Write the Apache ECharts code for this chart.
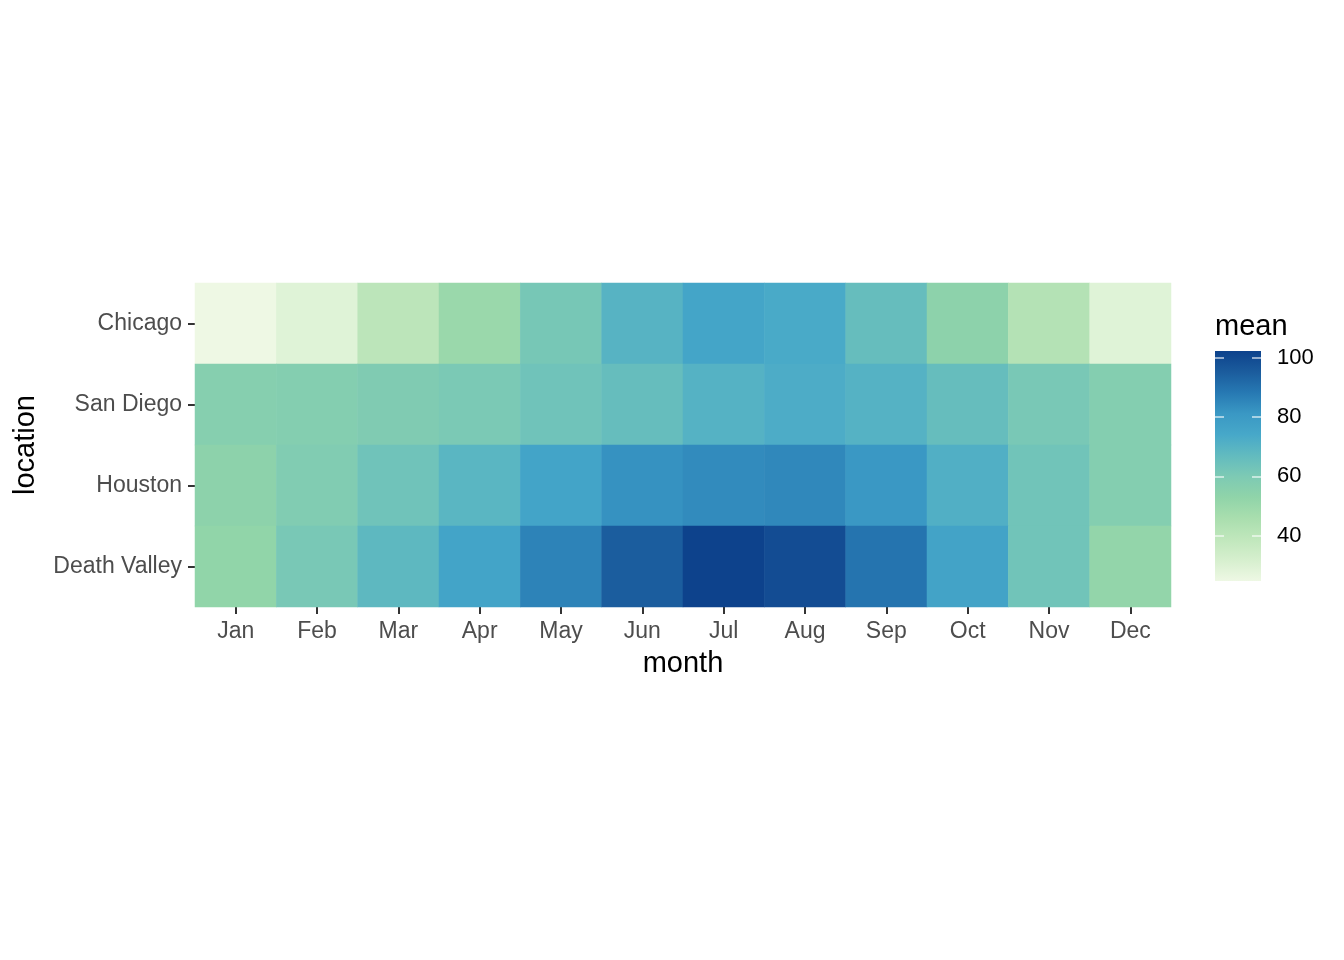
<!DOCTYPE html>
<html>
<head>
<meta charset="utf-8">
<script src="https://cdn.jsdelivr.net/npm/echarts@6/dist/echarts.min.js"></script>
<style>html,body{margin:0;padding:0;background:#fff;}#chart{width:1344px;height:960px;}</style>
</head>
<body>
<div id="chart"></div>
<script>
const months = ['Jan','Feb','Mar','Apr','May','Jun','Jul','Aug','Sep','Oct','Nov','Dec'];
const locations = ['Chicago','San Diego','Houston','Death Valley'];
const chicago     = [24.7, 29.0, 40.0, 50.0, 61.5, 70.0, 75.5, 73.5, 66.0, 54.0, 42.5, 29.0];
const sanDiego    = [56.5, 57.5, 59.0, 60.5, 63.5, 66.0, 70.5, 72.5, 70.5, 66.0, 61.0, 57.5];
const houston     = [54.0, 58.5, 63.5, 69.0, 76.0, 82.5, 84.0, 84.8, 81.0, 71.5, 63.0, 57.5];
const deathValley = [52.5, 61.0, 68.0, 76.0, 86.0, 95.0, 102.3, 99.5, 89.5, 76.5, 63.0, 52.0];
const legendTicks = [40, 60, 80, 100];
const scaleMin = 24.7, scaleMax = 102.3;
const palette = ['#eef8e4','#d6efce','#c0e7bc','#a9deae','#90d4a9','#7dcab4',
                 '#62bbbf','#47a8c9','#3a98c4','#2779b3','#1b5c9d','#0d428c'];

const rows = [chicago, sanDiego, houston, deathValley];
const heatData = [];
rows.forEach((vals, r) => vals.forEach((v, c) => heatData.push([c, r, v])));

const font = 'Liberation Sans, Arial, Helvetica, sans-serif';
const chart = echarts.init(document.getElementById('chart'));
chart.setOption({
  backgroundColor: '#ffffff',
  animation: false,
  title: {
    text: 'mean', left: 1215, top: 312, padding: 0,
    textStyle: {fontFamily: font, fontSize: 29, fontWeight: 'normal', color: '#000'}
  },
  grid: [
    {left: 195, top: 283, width: 976, height: 324},
    {left: 1215, top: 351, width: 46, height: 230}
  ],
  xAxis: [
    {
      type: 'category', data: months, gridIndex: 0,
      name: 'month', nameLocation: 'middle', nameGap: 42,
      nameTextStyle: {fontFamily: font, fontSize: 29, color: '#000'},
      axisLine: {show: false},
      axisTick: {show: true, alignWithLabel: true, length: 7, lineStyle: {color: '#333333', width: 2}},
      axisLabel: {fontFamily: font, fontSize: 23, color: '#4d4d4d', margin: 13},
      splitLine: {show: false}
    },
    {type: 'category', data: ['bar'], gridIndex: 1, show: false}
  ],
  yAxis: [
    {
      type: 'category', data: locations, inverse: true, gridIndex: 0,
      name: 'location', nameLocation: 'middle', nameGap: 155, nameRotate: 90,
      nameTextStyle: {fontFamily: font, fontSize: 29, color: '#000'},
      axisLine: {show: false},
      axisTick: {show: true, alignWithLabel: true, length: 7, lineStyle: {color: '#333333', width: 2}},
      axisLabel: {fontFamily: font, fontSize: 23, color: '#4d4d4d', margin: 13, padding: [4, 0, 0, 0]},
      splitLine: {show: false}
    },
    {
      type: 'value', gridIndex: 1, min: scaleMin, max: scaleMax, position: 'right', z: 10,
      axisLine: {show: false},
      axisTick: {show: true, inside: true, length: 9, customValues: legendTicks, lineStyle: {color: 'rgba(255,255,255,0.75)', width: 1.5}},
      axisLabel: {show: true, customValues: legendTicks, fontFamily: font, fontSize: 22, color: '#000', margin: 16},
      splitLine: {show: false}
    },
    {
      type: 'value', gridIndex: 1, min: scaleMin, max: scaleMax, position: 'left', z: 10,
      axisLine: {show: false},
      axisTick: {show: true, inside: true, length: 9, customValues: legendTicks, lineStyle: {color: 'rgba(255,255,255,0.75)', width: 1.5}},
      axisLabel: {show: false},
      splitLine: {show: false}
    }
  ],
  visualMap: {
    show: false, type: 'continuous', min: scaleMin, max: scaleMax, seriesIndex: 0,
    inRange: {color: palette}
  },
  series: [
    {
      type: 'heatmap', xAxisIndex: 0, yAxisIndex: 0, data: heatData,
      itemStyle: {borderWidth: 0}, emphasis: {disabled: true}
    },
    {
      type: 'bar', xAxisIndex: 1, yAxisIndex: 1, stack: 'lg', barWidth: '100%',
      data: [scaleMin], itemStyle: {color: 'rgba(0,0,0,0)'}, silent: true, z: 1
    },
    {
      type: 'bar', xAxisIndex: 1, yAxisIndex: 1, stack: 'lg', barWidth: '100%',
      data: [scaleMax - scaleMin], silent: true, z: 1,
      itemStyle: {
        color: new echarts.graphic.LinearGradient(0, 1, 0, 0,
          palette.map((c, i) => ({offset: i / (palette.length - 1), color: c})))
      }
    }
  ]
});
</script>
</body>
</html>
